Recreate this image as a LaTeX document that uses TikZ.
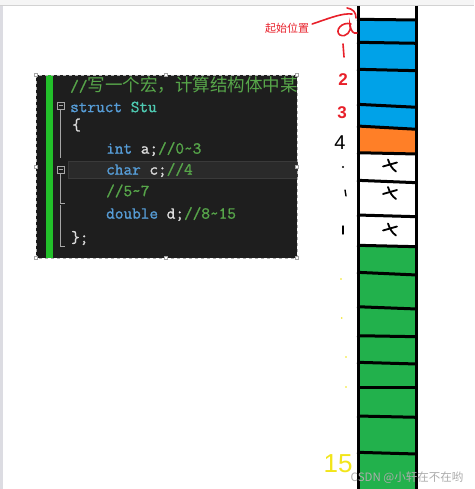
\documentclass[tikz,border=0pt]{standalone}
\usepackage{fontspec}
\newfontfamily\cjk{Noto Sans CJK SC}
\newfontfamily\hand{Liberation Sans}
\newfontfamily\codefont[FakeBold=1.2]{Latin Modern Mono}
\definecolor{codebg}{HTML}{1E1E1E}
\definecolor{rowbg}{HTML}{2A2A2A}
\definecolor{rowline}{HTML}{3A3A3A}
\definecolor{kw}{HTML}{569CD6}
\definecolor{ty}{HTML}{4EC9B0}
\definecolor{cm}{HTML}{57A64A}
\definecolor{tx}{HTML}{DCDCDC}
\definecolor{bar}{HTML}{22C02A}
\definecolor{pblue}{HTML}{00A2E8}
\definecolor{porange}{HTML}{FF7F27}
\definecolor{pgreen}{HTML}{22B14C}
\definecolor{pred}{HTML}{E8202A}
\definecolor{pyellow}{HTML}{F2E51A}
\tikzset{
  codetext/.style={anchor=west,inner sep=0pt,font=\codefont\fontsize{16.8}{18}\selectfont},
  handle/.style={draw=gray!70,fill=white,minimum size=3pt,inner sep=0pt},
  cellline/.style={line width=3pt,black},
  redmark/.style={pred,line width=1.6pt,line cap=round},
  handlab/.style={inner sep=0pt,font=\hand\bfseries\fontsize{17}{17}\selectfont},
  xmark/.style={black,line width=1.8pt,line cap=round}
}
\begin{document}
\begin{tikzpicture}[x=1pt,y=-1pt]
\useasboundingbox (0,0) rectangle (474,489);
\fill[white] (0,0) rectangle (474,489);
% header strip and left edge
\fill[gray!8] (0,0) rectangle (474,5);
\draw[gray!35,line width=0.8pt] (0,5.5) -- (474,5.5);
\fill[blue!10!gray!25] (0,6) rectangle (3,489);

% ---------- code box ----------
\fill[codebg] (36,75) rectangle (297,258);
\fill[black!90] (36,75) rectangle (46,258);
\fill[bar] (46,75) rectangle (53,258);
\fill[rowbg] (68,161) rectangle (297,178);
\draw[rowline,line width=0.5pt] (68,161) rectangle (297,178);
% fold markers
\draw[gray!70,line width=0.8pt] (57,102) rectangle (64,109);
\draw[gray!70,line width=0.8pt] (58.5,105.5) -- (62.5,105.5);
\draw[gray!70,line width=0.8pt] (60.5,109) -- (60.5,158);
\draw[gray!70,line width=0.8pt] (57,166) rectangle (64,173);
\draw[gray!70,line width=0.8pt] (58.5,169.5) -- (62.5,169.5);
\draw[gray!70,line width=0.8pt] (60.5,173) -- (60.5,203) -- (65,203);
\draw[gray!70,line width=0.8pt] (60.5,205) -- (60.5,246) -- (65,246);
\begin{scope}
\clip (36,75) rectangle (297,258);
\node[codetext] (l1) at (70,85) {\textcolor{cm}{//\cjk\fontsize{17.5}{18}\selectfont 写一个宏，计算结构体中某}};
\node[codetext] (l2) at (70,107) {\textcolor{kw}{struct} \textcolor{ty}{Stu}};
\node[codetext] (l3) at (72,125) {\textcolor{tx}{\{}};
\node[codetext] (l4) at (106,149) {\textcolor{kw}{int} \textcolor{tx}{a;}\textcolor{cm}{//0\char`\~3}};
\node[codetext] (l5) at (106,170) {\textcolor{kw}{char} \textcolor{tx}{c;}\textcolor{cm}{//4}};
\node[codetext] (l6) at (106,191) {\textcolor{cm}{//5\char`\~7}};
\node[codetext] (l7) at (106,214) {\textcolor{kw}{double} \textcolor{tx}{d;}\textcolor{cm}{//8\char`\~15}};
\node[codetext] (l8) at (71,238) {\textcolor{tx}{\};}};
\end{scope}
\draw[gray!60,dashed,line width=0.5pt] (36,75) rectangle (297,258);
\foreach \p [count=\i] in {(36,75),(166,75),(297,75),(36,167),(297,167),(36,258),(166,258),(297,258)}
  \node[handle] (h\i) at \p {};

% ---------- memory column ----------
\fill[pblue] (358,19.3) -- (416,20) -- (416,129.3) -- (358,126) -- cycle;
\fill[porange] (358,126) -- (416,129.3) -- (416,154) -- (358,152.7) -- cycle;
\fill[pgreen] (358,245.3) -- (416,246.7) -- (416,489) -- (358,489) -- cycle;
\foreach \a/\b in {19.3/20, 42.3/43.3, 69.3/70.7, 104.3/107.3, 126/129.3, 152.7/154,
                   180.3/182.7, 215/216.7, 245.3/246.7, 272.3/275, 306.7/309, 335.7/336.7,
                   362.3/364, 387.7/387.7, 416/417.3, 452.3/454}
  \draw[cellline] (357,\a) -- (417,\b);
\draw[cellline] (358,6) -- (358,489);
\draw[cellline] (416,6) -- (416,489);
% x marks in padding cells
\foreach \y [count=\i] in {165.5,193,229.5}{
  \draw[xmark] (383,\y+1) -- (397,\y-3);
  \draw[xmark] (388,\y-6) .. controls (390,\y) and (392,\y+3) .. (396,\y+6);
}

% ---------- hand labels ----------
\node[inner sep=0pt,text=pred,font=\cjk\fontsize{11}{12}\selectfont] (start) at (287,28) {起始位置};
\coordinate (tgt) at (356,18);
\draw[redmark] (start.east) ++(3,-4) .. controls (330,18) and (342,13) .. (352,14);
\draw[redmark] (347,8) .. controls (353,9) and (356,12) .. (tgt);
\draw[redmark] (351,24) .. controls (342,21) and (334,31) .. (340,35)
  .. controls (346,38) and (352,31) .. (350,25) .. controls (351,31) and (353,34) .. (357,33);
\draw[redmark] (343,44) -- (344,57);
\node[handlab,text=pred] (n2) at (343,80) {2};
\node[handlab,text=pred] (n3) at (342,113) {3};
\node[handlab,text=black,font=\hand\fontsize{20}{20}\selectfont] (n4) at (340,143) {4};
\fill[black] (343,167) circle (1.2);
\draw[black,line width=1.4pt,line cap=round] (345,190) -- (346,196);
\draw[black,line width=1.4pt,line cap=round] (343,226) -- (343,234);
\foreach \x/\y in {341/279, 341.7/318, 346/357, 346/387}
  \fill[pyellow] (\x,\y) circle (0.9);
\node[inner sep=0pt,text=pyellow,font=\hand\fontsize{26}{26}\selectfont] (n15) at (338,464) {15};
\node[inner sep=0pt,text=gray!65,font=\cjk\fontsize{11.5}{12}\selectfont] (wm) at (407,478) {CSDN @小轩在不在哟};
\end{tikzpicture}
\end{document}
